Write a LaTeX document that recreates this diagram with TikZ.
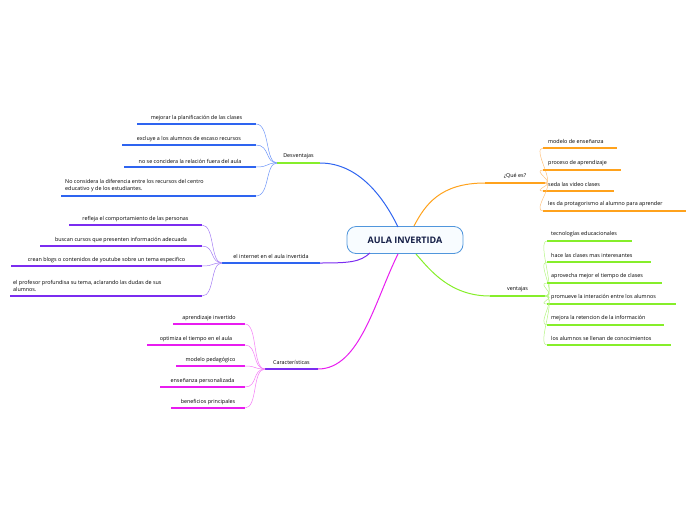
\documentclass[tikz,border=0pt]{standalone}
\usepackage{fontspec}
\setmainfont{Open Sans}
\begin{document}
\begin{tikzpicture}[x=1pt,y=-1pt,
 lbl/.style={font=\fontsize{5.4}{7}\selectfont,inner sep=1pt},
 thin/.style={line width=0.5pt},
 thick/.style={line width=1.4pt}]
\useasboundingbox (0,0) rectangle (696,520);
\definecolor{cblue}{HTML}{2E64F0}\definecolor{cpurp}{HTML}{7B2CF0}
\definecolor{cmag}{HTML}{E81CF0}\definecolor{corg}{HTML}{FFA21C}
\definecolor{cgrn}{HTML}{86EE2A}\definecolor{lblue}{HTML}{6F96F8}
\definecolor{lpurp}{HTML}{A47CF4}\definecolor{lmag}{HTML}{F47CF6}
\definecolor{lorg}{HTML}{FFC27C}\definecolor{lgrn}{HTML}{B4F482}
\node[draw={rgb,255:red,80;green,150;blue,220},line width=0.8pt,rounded corners=9pt,fill={rgb,255:red,248;green,252;blue,255},minimum width=116pt,minimum height=27pt,font=\bfseries\fontsize{9}{10}\selectfont,text={rgb,255:red,20;green,30;blue,70}] (c) at (405,240) {AULA INVERTIDA};
% main branch junction coordinates
\coordinate (dj) at (277,163);\coordinate (de) at (320,163);
\coordinate (ij) at (222,263);\coordinate (ie) at (320,263);
\coordinate (kj) at (265,369);\coordinate (ke) at (318,369);
\coordinate (qj) at (545,183);\coordinate (qe) at (485,183);
\coordinate (vj) at (545,296);\coordinate (ve) at (490,296);
\draw[cblue,line width=1pt] (de) .. controls (360,163) and (385,200) .. (398,227);
\draw[cpurp,line width=1pt] (ie) .. controls (350,263) and (360,262) .. (370,253);
\draw[cmag,line width=1pt] (ke) .. controls (360,369) and (375,300) .. (398,254);
\draw[corg,line width=1pt] (qe) .. controls (440,183) and (425,205) .. (414,226);
\draw[cgrn,line width=1pt] (ve) .. controls (450,296) and (430,270) .. (416,254);
\draw[cgrn,thick] (dj) -- (de) node[lbl,midway,above=3pt,black] (dl) {Desventajas};
\draw[cblue,thick] (ij) -- (ie) node[lbl,midway,above=3pt,black] (il) {el internet en el aula invertida};
\draw[cpurp,thick] (kj) -- (ke) node[lbl,midway,above=3pt,black] (kl) {Características};
\draw[corg,thick] (qe) -- (qj) node[lbl,midway,above=3pt,black] (ql) {¿Qué es?};
\draw[cgrn,thick] (ve) -- (vj) node[lbl,midway,above=3pt,black] (vl) {ventajas};
% left children: name, y, left x, endx, text
\foreach \n/\y/\l/\t [count=\i] in {
 d1/124/137/{mejorar la planificación de las clases},
 d2/145/122/{excluye a los alumnos de escaso recursos},
 d3/167/124/{no se concidera la relación fuera del aula}}{
 \coordinate (\n a) at (\l,\y);\coordinate (\n b) at (256,\y);
 \draw[cblue,thick] (\n a) -- (\n b) node[lbl,midway,above=2pt,black] {\t};
 \draw[lblue,thin] (\n b) .. controls (270,\y) and (265,163) .. (dj);}
\coordinate (d4a) at (61,196);\coordinate (d4b) at (256,196);
\draw[cblue,thick] (d4a) -- (d4b);
\node[lbl,anchor=south west,align=left,black] at (64,193) {No considera la diferencia entre los recursos del centro\\educativo y de los estudiantes.};
\draw[lblue,thin] (d4b) .. controls (270,196) and (265,163) .. (dj);
\foreach \n/\y/\l/\t in {
 i1/225/69/{refleja el comportamiento de las personas},
 i2/246/40/{buscan cursos que presenten información adecuada},
 i3/266/11/{crean blogs o contenidos de youtube sobre un tema especifico}}{
 \coordinate (\n a) at (\l,\y);\coordinate (\n b) at (202,\y);
 \draw[cpurp,thick] (\n a) -- (\n b) node[lbl,midway,above=2pt,black] {\t};
 \draw[lpurp,thin] (\n b) .. controls (215,\y) and (210,263) .. (ij);}
\coordinate (i4a) at (10,296);\coordinate (i4b) at (202,296);
\draw[cpurp,thick] (i4a) -- (i4b);
\node[lbl,anchor=south west,align=left,black] at (12,293) {el profesor profundisa su tema, aclarando las dudas de sus\\alumnos.};
\draw[lpurp,thin] (i4b) .. controls (215,296) and (210,263) .. (ij);
\foreach \n/\y/\l/\t in {
 k1/324/173/{aprendizaje invertido},
 k2/345/147/{optimiza el tiempo en el aula},
 k3/366/176/{modelo pedagógico},
 k4/387/160/{enseñanza personalizada},
 k5/408/171/{beneficios principales}}{
 \coordinate (\n a) at (\l,\y);\coordinate (\n b) at (245,\y);
 \draw[cmag,thick] (\n a) -- (\n b) node[lbl,midway,above=2pt,black] {\t};
 \draw[lmag,thin] (\n b) .. controls (258,\y) and (252,369) .. (kj);}
\foreach \n/\y/\r/\t in {
 q1/148/617/{modelo de enseñanza},
 q2/170/621/{proceso de aprendizaje},
 q3/191/614/{seda las video clases},
 q4/211/686/{les da protagorismo al alumno para aprender}}{
 \coordinate (\n a) at (543,\y);\coordinate (\n b) at (\r,\y);
 \draw[corg,thick] (\n a) -- (\n b);
 \node[lbl,anchor=south west,black] at (547,\y-3) {\t};
 \draw[lorg,thin] (qj) .. controls (555,183) and (532,\y) .. (\n a);}
\foreach \n/\y/\r/\t in {
 v1/241/632/{tecnologías educacionales},
 v2/262/651/{hace las clases mas interesantes},
 v3/283/662/{aprovecha mejor el tiempo de clases},
 v4/304/676/{promueve la interación entre los alumnos},
 v5/325/664/{mejora la retencion de la información},
 v6/345/671/{los alumnos se llenan de conocimientos}}{
 \coordinate (\n a) at (547,\y);\coordinate (\n b) at (\r,\y);
 \draw[cgrn,thick] (\n a) -- (\n b);
 \node[lbl,anchor=south west,black] at (550,\y-3) {\t};
 \draw[lgrn,thin] (vj) .. controls (558,296) and (536,\y) .. (\n a);}
\end{tikzpicture}
\end{document}
